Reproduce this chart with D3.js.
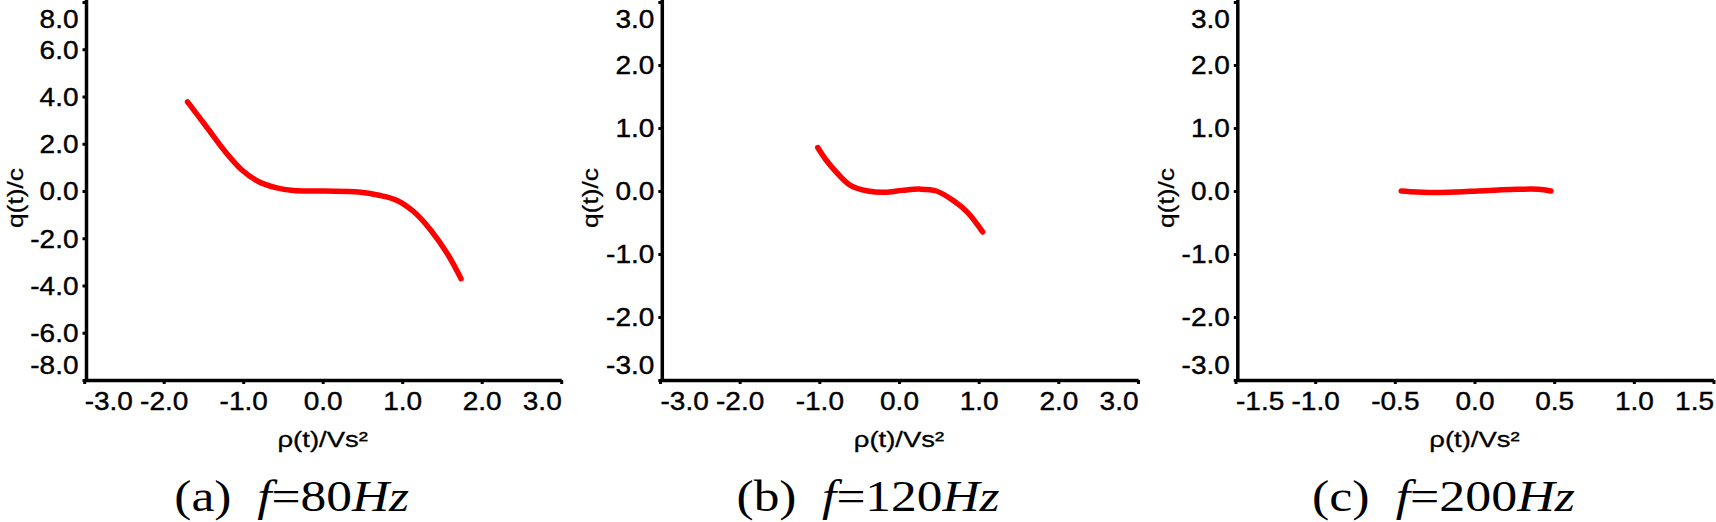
<!DOCTYPE html>
<html>
<head>
<meta charset="utf-8">
<script src="https://cdn.jsdelivr.net/npm/d3@7"></script>
<style>
  html, body { margin: 0; padding: 0; background: #fff; }
  svg { display: block; }
  .axis text { font-family: "Liberation Sans", Arial, sans-serif; font-size: 25px; fill: #000; stroke: #000; stroke-width: 0.4px; }
  .axis path, .axis line { stroke: #000; }
  .lab { font-family: "Liberation Sans", Arial, sans-serif; font-size: 22px; fill: #000; stroke: #000; stroke-width: 0.3px; }
  .cap { font-family: "Liberation Serif", "Times New Roman", serif; font-size: 44px; fill: #000; }
</style>
</head>
<body>
<script>
// values
var rhoA = [-1.70, -1.46, -1.24, -1.02, -0.81, -0.59, -0.37, 0.02, 0.45, 0.71, 0.93, 1.15, 1.36, 1.58, 1.74];
var qA   = [ 3.77,  2.71,  1.72,  0.90,  0.40,  0.14,  0.02, 0.00, -0.04, -0.18, -0.39, -0.89, -1.66, -2.72, -3.71];

var rhoB = [-1.02, -0.92, -0.78, -0.61, -0.39, -0.18, 0.04, 0.26, 0.47, 0.69, 0.86, 1.05];
var qB   = [ 0.69,  0.50,  0.29,  0.09,  0.00, -0.02, 0.01, 0.03, 0.00, -0.16, -0.34, -0.65];

var rhoC = [-0.46, -0.36, -0.24, -0.11, 0.02, 0.15, 0.27, 0.40, 0.48];
var qC   = [ 0.00, -0.016, -0.025, -0.016, 0.00, 0.016, 0.027, 0.027, 0.00];

var xTicksAB = [-3, -2, -1, 0, 1, 2, 3];
var xTicksC  = [-1.5, -1, -0.5, 0, 0.5, 1, 1.5];
var yTicksA  = [-8, -6, -4, -2, 0, 2, 4, 6, 8];
var yTicksBC = [-3, -2, -1, 0, 1, 2, 3];

var captions = [
  {tag: '(a)', num: '80'},
  {tag: '(b)', num: '120'},
  {tag: '(c)', num: '200'}
];

var W = 1716, H = 522;
var stretch = 1.12;

var svg = d3.select('body').append('svg')
    .attr('width', W)
    .attr('height', H);

svg.append('rect').attr('width', W).attr('height', H).attr('fill', '#fff');

var panels = [
  {x0: 84.2,   x1: 561.2,  xd: [-3, 3],     yd: [-8, 8], xt: xTicksAB, yt: yTicksA,  rho: rhoA, q: qA, capW: 235},
  {x0: 660.0,  x1: 1138.0, xd: [-3, 3],     yd: [-3, 3], xt: xTicksAB, yt: yTicksBC, rho: rhoB, q: qB, capW: 263},
  {x0: 1235.5, x1: 1713.5, xd: [-1.5, 1.5], yd: [-3, 3], xt: xTicksC,  yt: yTicksBC, rho: rhoC, q: qC, capW: 263}
];

var yTop = 2, yBot = 380;
// plain hyphen for negatives, as in the picture
var f1 = d3.format('.1f');
var fmt = function(d) { return f1(d).replace('\u2212', '-'); };

panels.forEach(function(p, i) {
    var x = d3.scaleLinear().domain(p.xd).range([p.x0, p.x1]);
    var y = d3.scaleLinear().domain(p.yd).range([yBot, yTop]);
    var axX = p.x0 + 2.3;

    // Add the X Axis
    var gx = svg.append('g')
        .attr('class', 'x axis')
        .attr('transform', 'translate(0,' + yBot + ')')
        .call(d3.axisBottom(x).tickValues(p.xt).tickFormat(fmt).tickSize(4).tickSizeOuter(0));
    gx.select('.domain').attr('stroke-width', 3.5);
    gx.selectAll('.tick line').attr('stroke-width', 3);
    gx.selectAll('.tick text')
        .attr('y', 30)
        .attr('dy', 0)
        .attr('transform', 'scale(' + stretch + ',1)')
        .attr('text-anchor', function(d, j, n) {
            return j === 0 ? 'start' : (j === n.length - 1 ? 'end' : 'middle');
        });

    // Add the Y Axis
    var gy = svg.append('g')
        .attr('class', 'y axis')
        .attr('transform', 'translate(' + axX + ',0)')
        .call(d3.axisLeft(y).tickValues(p.yt).tickFormat(fmt).tickSize(4).tickSizeOuter(0));
    gy.select('.domain').attr('stroke-width', 3.5).attr('d', 'M0,0V' + (yBot + 1));
    gy.selectAll('.tick line').attr('stroke-width', 3);
    gy.selectAll('.tick text')
        .attr('x', -8 / stretch)
        .attr('transform', 'scale(' + stretch + ',1)')
        .attr('dy', function(d, j, n) {
            return (j === 0 || j === n.length - 1) ? 0 : '0.35em';
        })
        .attr('y', function(d, j, n) {
            return j === 0 ? -7 : (j === n.length - 1 ? 26 : 0);
        });

    // axis titles
    var xc = (p.x0 + p.x1) / 2;
    svg.append('text')
        .attr('class', 'lab')
        .attr('text-anchor', 'middle')
        .attr('transform', 'translate(' + xc + ',447) scale(1.25,1)')
        .text('ρ(t)/Vs²');

    svg.append('text')
        .attr('class', 'lab')
        .attr('text-anchor', 'middle')
        .attr('transform', 'translate(' + (axX - 64) + ',198) rotate(-90) scale(1.2,1)')
        .text('q(t)/c');

    // the curve
    var line = d3.line()
        .x(function(d) { return x(d[0]); })
        .y(function(d) { return y(d[1]); })
        .curve(d3.curveCatmullRom);

    svg.append('path')
        .attr('d', line(d3.zip(p.rho, p.q)))
        .attr('fill', 'none')
        .attr('stroke', '#ff0000')
        .attr('stroke-width', 5.5)
        .attr('stroke-linecap', 'round')
        .attr('stroke-linejoin', 'round');

    // caption
    var c = captions[i];
    var cap = svg.append('text')
        .attr('class', 'cap')
        .attr('text-anchor', 'middle');
    cap.append('tspan').text(c.tag + '\u2002');
    cap.append('tspan').attr('font-style', 'italic').text('f');
    cap.append('tspan').text('=' + c.num);
    cap.append('tspan').attr('font-style', 'italic').text('Hz');
    var w = cap.node().getBBox().width;
    cap.attr('transform', 'translate(' + (xc - 31) + ',511) scale(' + (p.capW / w) + ',1)');
});
</script>
</body>
</html>
